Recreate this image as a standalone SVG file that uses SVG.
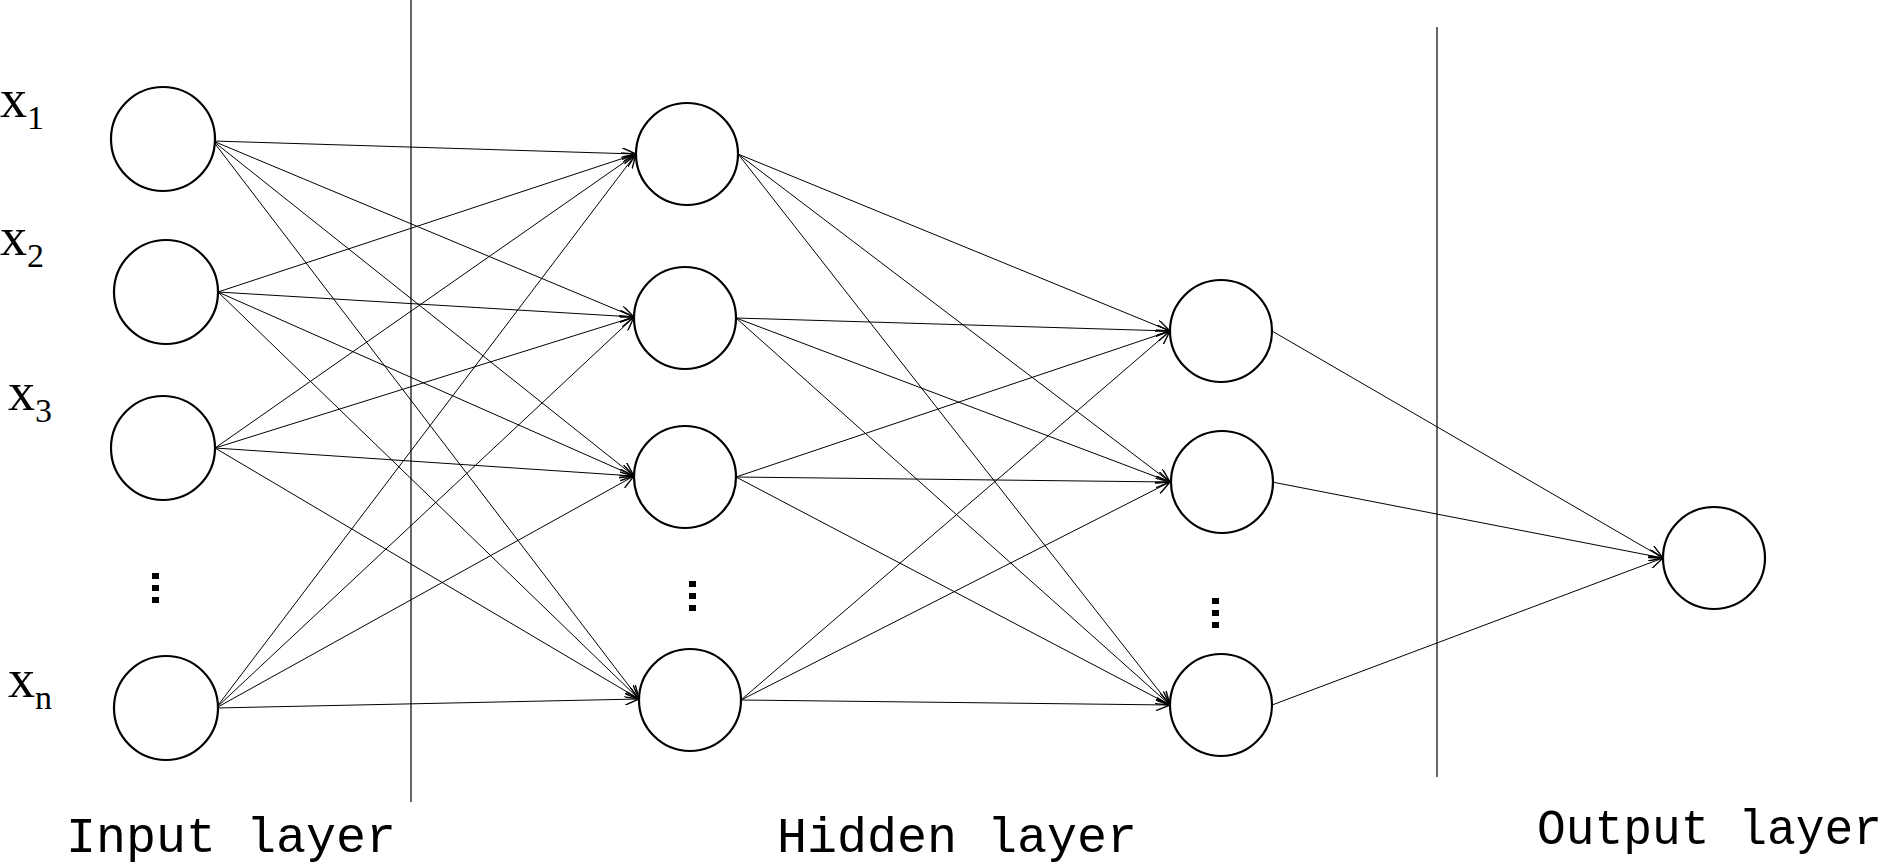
<svg xmlns="http://www.w3.org/2000/svg" width="1890" height="864" viewBox="0 0 1890 864">
<style>
.n{fill:#fff;stroke:#000;stroke-width:2.2}
.e line{stroke:#000;stroke-width:1;marker-end:url(#a)}
.lbl{font-family:"Liberation Serif",serif;font-size:54px}
.sub{font-size:34px}
.t{font-family:"Liberation Mono",monospace;font-size:50px}
.d{fill:#000}
</style>
<defs><marker id="a" viewBox="0 0 12 10" refX="12" refY="5" markerWidth="14" markerHeight="12" markerUnits="userSpaceOnUse" orient="auto"><path d="M0,0 L12,5 L0,10" fill="none" stroke="#000" stroke-width="1.2"/></marker></defs>
<rect width="1890" height="864" fill="#fff"/>
<line x1="411" y1="0" x2="411" y2="802" stroke="#000" stroke-width="1.2"/>
<line x1="1437" y1="27" x2="1437" y2="777" stroke="#000" stroke-width="1.2"/>
<g class="e" id="connectors">
<line x1="213" y1="141" x2="636" y2="154"/><line x1="213" y1="141" x2="634" y2="317"/><line x1="213" y1="141" x2="634" y2="476"/><line x1="213" y1="141" x2="639" y2="699"/>
<line x1="218" y1="292" x2="636" y2="154"/><line x1="218" y1="292" x2="634" y2="317"/><line x1="218" y1="292" x2="634" y2="476"/><line x1="218" y1="292" x2="639" y2="699"/>
<line x1="215" y1="448" x2="636" y2="154"/><line x1="215" y1="448" x2="634" y2="317"/><line x1="215" y1="448" x2="634" y2="476"/><line x1="215" y1="448" x2="639" y2="699"/>
<line x1="216" y1="708" x2="636" y2="154"/><line x1="216" y1="708" x2="634" y2="317"/><line x1="216" y1="708" x2="634" y2="476"/><line x1="216" y1="708" x2="639" y2="699"/>
<line x1="738" y1="154" x2="1170" y2="331"/><line x1="738" y1="154" x2="1170" y2="482"/><line x1="738" y1="154" x2="1170" y2="705"/>
<line x1="736" y1="318" x2="1170" y2="331"/><line x1="736" y1="318" x2="1170" y2="482"/><line x1="736" y1="318" x2="1170" y2="705"/>
<line x1="736" y1="477" x2="1170" y2="331"/><line x1="736" y1="477" x2="1170" y2="482"/><line x1="736" y1="477" x2="1170" y2="705"/>
<line x1="741" y1="700" x2="1170" y2="331"/><line x1="741" y1="700" x2="1170" y2="482"/><line x1="741" y1="700" x2="1170" y2="705"/>
<line x1="1272" y1="331" x2="1663" y2="558"/><line x1="1272" y1="482" x2="1663" y2="558"/><line x1="1272" y1="705" x2="1663" y2="558"/>
</g>
<g id="in1"><circle class="n" cx="163" cy="139" r="52"/></g>
<g id="in2"><circle class="n" cx="166" cy="292" r="52"/></g>
<g id="in3"><circle class="n" cx="163" cy="448" r="52"/></g>
<g id="inn"><circle class="n" cx="166" cy="708" r="52"/></g>
<g id="h1a"><circle class="n" cx="687" cy="154" r="51"/></g>
<g id="h1b"><circle class="n" cx="685" cy="318" r="51"/></g>
<g id="h1c"><circle class="n" cx="685" cy="477" r="51"/></g>
<g id="h1d"><circle class="n" cx="690" cy="700" r="51"/></g>
<g id="h2a"><circle class="n" cx="1221" cy="331" r="51"/></g>
<g id="h2b"><circle class="n" cx="1222" cy="482" r="51"/></g>
<g id="h2c"><circle class="n" cx="1221" cy="705" r="51"/></g>
<g id="out"><circle class="n" cx="1714" cy="558" r="51"/></g>
<g id="dots">
<rect class="d" x="152" y="573" width="7" height="6"/><rect class="d" x="152" y="585" width="7" height="6"/><rect class="d" x="152" y="597" width="7" height="6"/>
<rect class="d" x="689" y="581" width="7" height="6"/><rect class="d" x="689" y="593" width="7" height="6"/><rect class="d" x="689" y="605" width="7" height="6"/>
<rect class="d" x="1212" y="598" width="7" height="6"/><rect class="d" x="1212" y="610" width="7" height="6"/><rect class="d" x="1212" y="622" width="7" height="6"/>
</g>
<g id="labels">
<text class="lbl" x="0" y="117">x<tspan class="sub" dy="12">1</tspan></text>
<text class="lbl" x="0" y="255">x<tspan class="sub" dy="12">2</tspan></text>
<text class="lbl" x="8" y="410">x<tspan class="sub" dy="12">3</tspan></text>
<text class="lbl" x="8" y="697">x<tspan class="sub" dy="12">n</tspan></text>
<text class="t" x="66" y="852">Input layer</text>
<text class="t" x="777" y="852">Hidden layer</text>
<text class="t" x="1537" y="844" textLength="345" lengthAdjust="spacingAndGlyphs">Output layer</text>
</g>
</svg>
